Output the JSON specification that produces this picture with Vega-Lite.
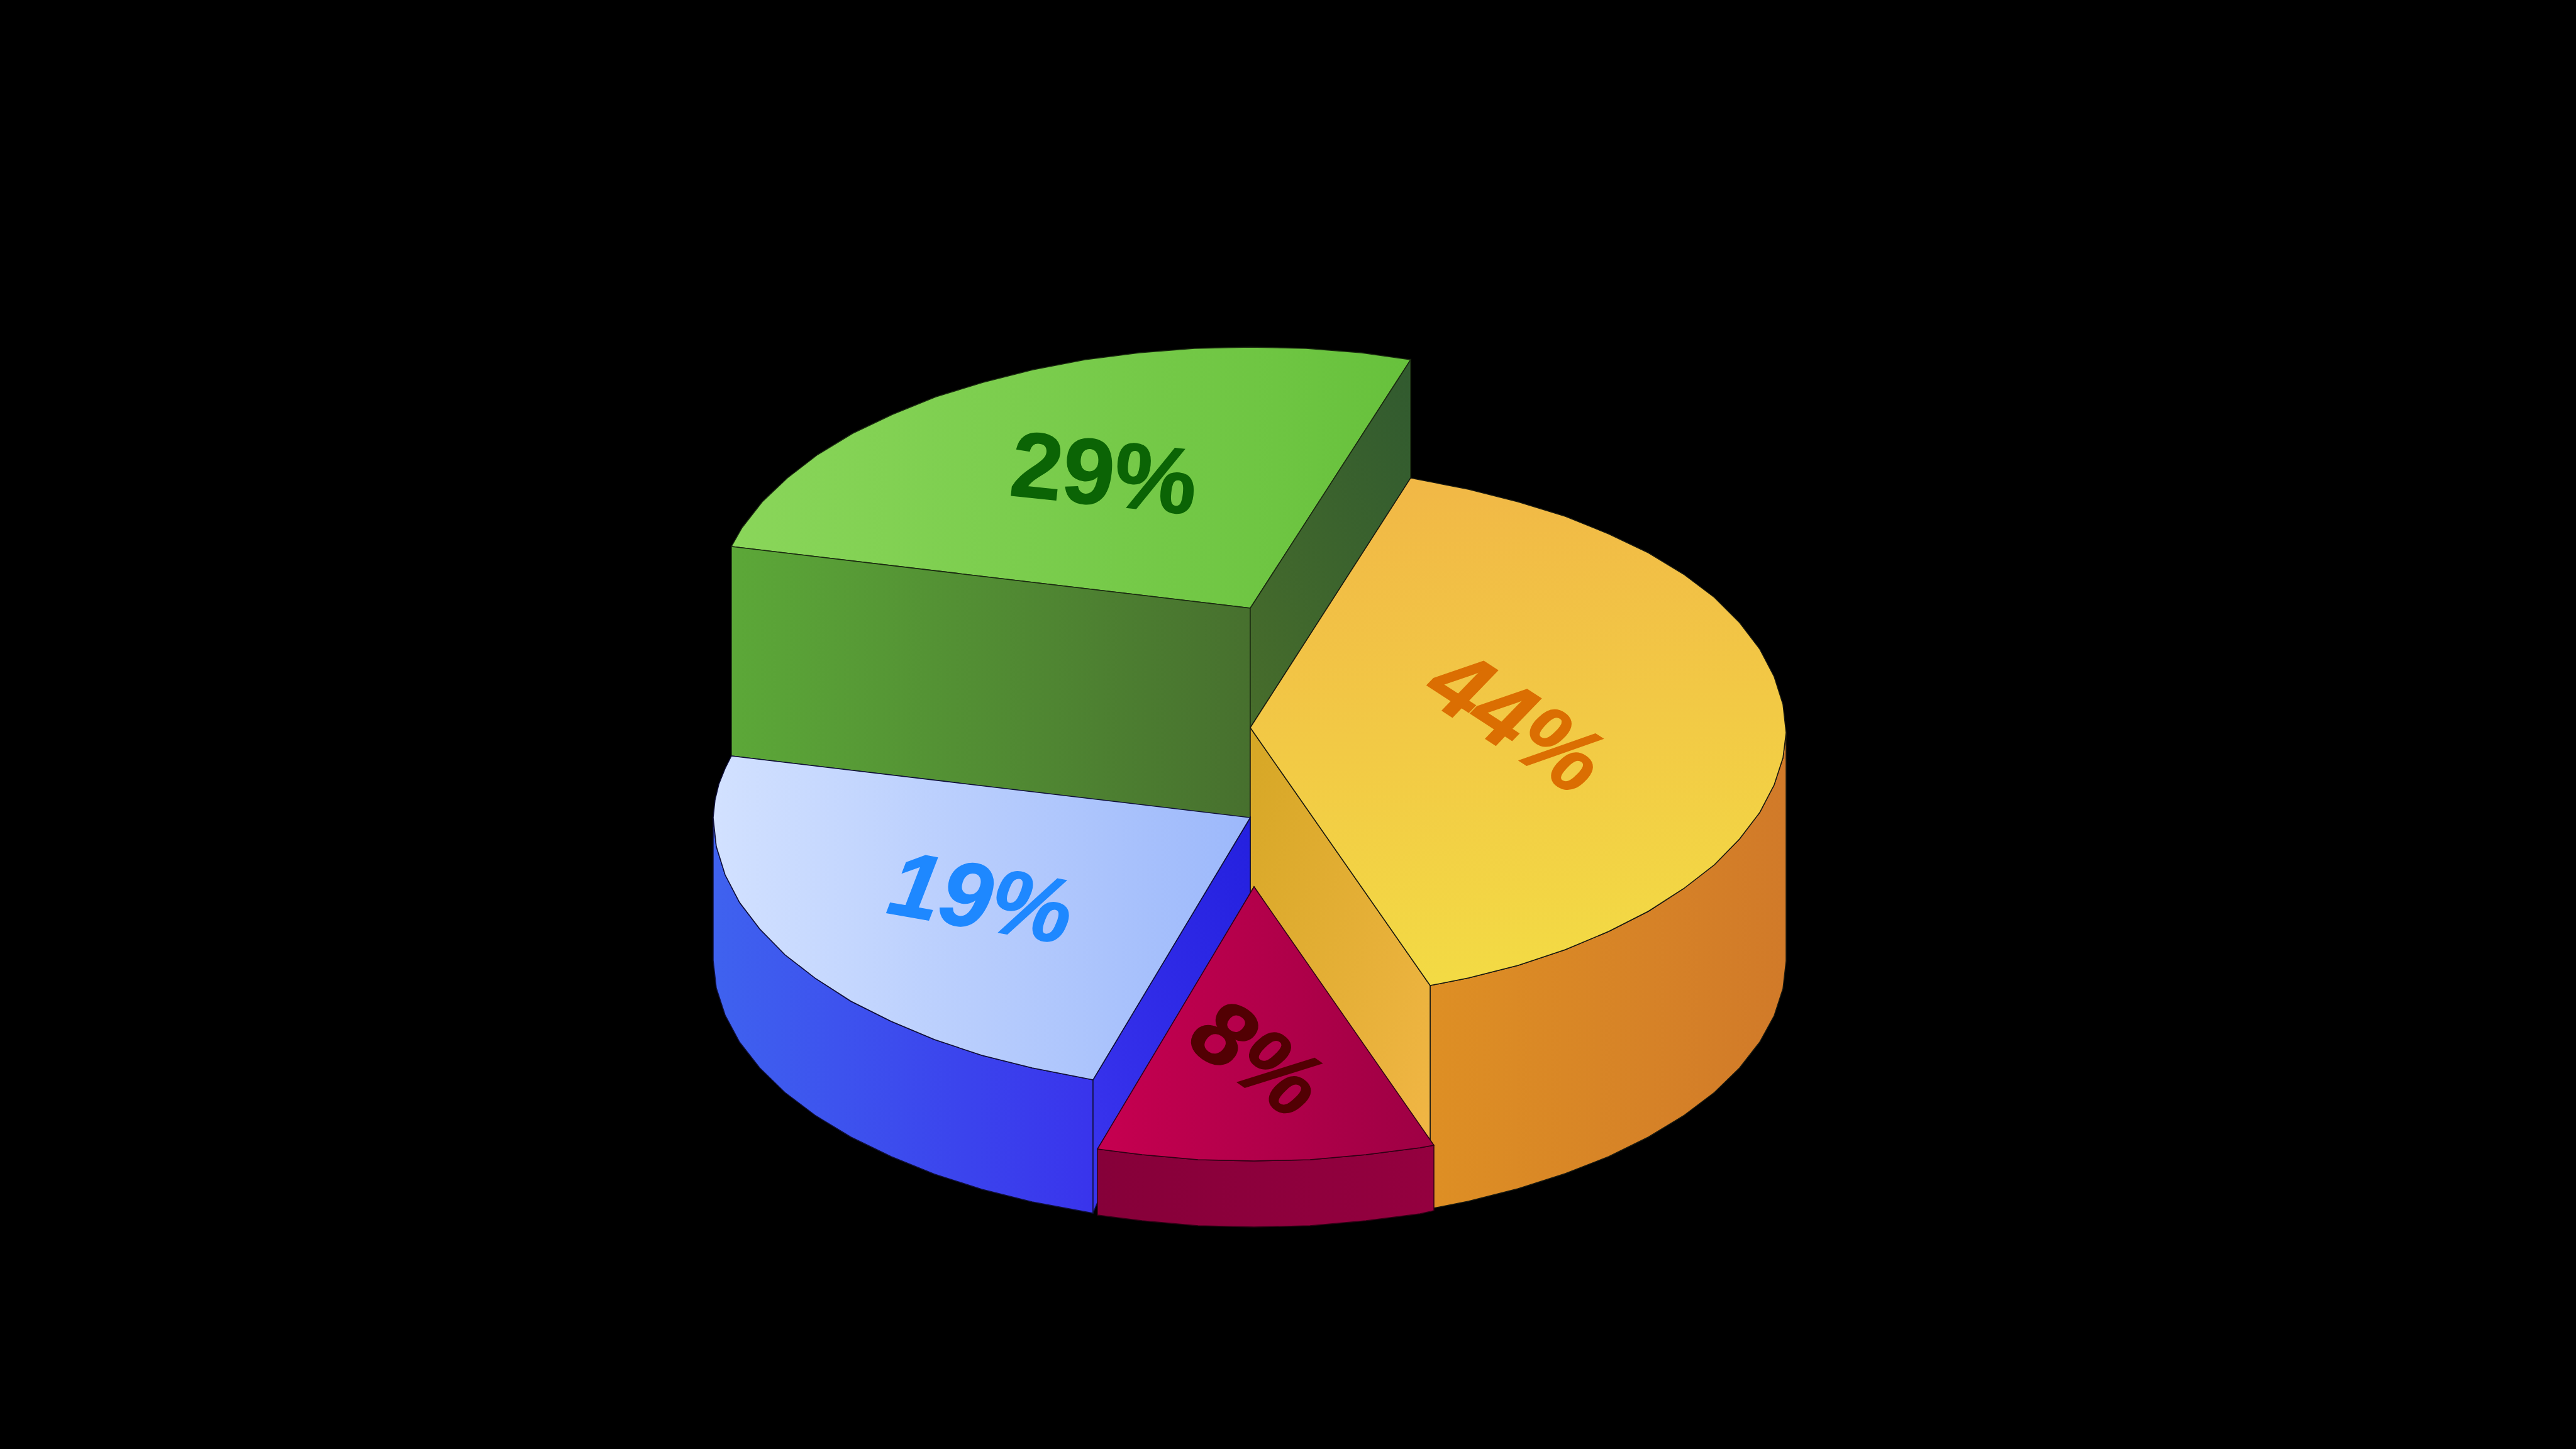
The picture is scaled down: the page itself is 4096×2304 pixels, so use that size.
{
"$schema":"https://vega.github.io/schema/vega-lite/v6.json",
"width":4096,"height":2304,"autosize":{"type":"fit","contains":"padding"},"padding":0,"background":"#000000",
"config":{"view":{"stroke":null}},
"datasets":{
"greenTop":[{"i":0,"x":1163,"y":869},{"i":1,"x":1180,"y":839},{"i":2,"x":1212,"y":798},{"i":3,"x":1252,"y":760},{"i":4,"x":1300,"y":723},{"i":5,"x":1356,"y":689},{"i":6,"x":1419,"y":659},{"i":7,"x":1488,"y":631},{"i":8,"x":1563,"y":608},{"i":9,"x":1642,"y":588},{"i":10,"x":1725,"y":572},{"i":11,"x":1811,"y":561},{"i":12,"x":1899,"y":554},{"i":13,"x":1988,"y":552},{"i":14,"x":2077,"y":554},{"i":15,"x":2165,"y":561},{"i":16,"x":2243,"y":572},{"i":17,"x":1988,"y":967}],
"greenFront":[{"i":0,"x":1163,"y":869},{"i":1,"x":1988,"y":967},{"i":2,"x":1988,"y":1301},{"i":3,"x":1163,"y":1202}],
"greenSide":[{"i":0,"x":1988,"y":967},{"i":1,"x":2243,"y":572},{"i":2,"x":2243,"y":760},{"i":3,"x":1988,"y":1157}],
"yellowSide":[{"i":0,"x":2274,"y":1567},{"i":1,"x":2335,"y":1555},{"i":2,"x":2414,"y":1535},{"i":3,"x":2489,"y":1510},{"i":4,"x":2558,"y":1481},{"i":5,"x":2621,"y":1449},{"i":6,"x":2677,"y":1413},{"i":7,"x":2726,"y":1375},{"i":8,"x":2766,"y":1334},{"i":9,"x":2798,"y":1292},{"i":10,"x":2821,"y":1248},{"i":11,"x":2835,"y":1205},{"i":12,"x":2840,"y":1165},{"i":13,"x":2840,"y":1528},{"i":14,"x":2835,"y":1572},{"i":15,"x":2821,"y":1615},{"i":16,"x":2798,"y":1657},{"i":17,"x":2766,"y":1698},{"i":18,"x":2726,"y":1737},{"i":19,"x":2677,"y":1774},{"i":20,"x":2621,"y":1808},{"i":21,"x":2558,"y":1839},{"i":22,"x":2489,"y":1866},{"i":23,"x":2414,"y":1890},{"i":24,"x":2335,"y":1910},{"i":25,"x":2274,"y":1922}],
"yellowInner":[{"i":0,"x":1988,"y":1157},{"i":1,"x":2274,"y":1567},{"i":2,"x":2274,"y":1823},{"i":3,"x":1994,"y":1410},{"i":4,"x":1988,"y":1420}],
"yellowTop":[{"i":0,"x":1988,"y":1157},{"i":1,"x":2243,"y":760},{"i":2,"x":2335,"y":778},{"i":3,"x":2414,"y":798},{"i":4,"x":2489,"y":821},{"i":5,"x":2558,"y":849},{"i":6,"x":2621,"y":879},{"i":7,"x":2677,"y":913},{"i":8,"x":2726,"y":950},{"i":9,"x":2766,"y":990},{"i":10,"x":2798,"y":1032},{"i":11,"x":2821,"y":1076},{"i":12,"x":2835,"y":1120},{"i":13,"x":2840,"y":1165},{"i":14,"x":2835,"y":1205},{"i":15,"x":2821,"y":1248},{"i":16,"x":2798,"y":1292},{"i":17,"x":2766,"y":1334},{"i":18,"x":2726,"y":1375},{"i":19,"x":2677,"y":1413},{"i":20,"x":2621,"y":1449},{"i":21,"x":2558,"y":1481},{"i":22,"x":2489,"y":1510},{"i":23,"x":2414,"y":1535},{"i":24,"x":2335,"y":1555},{"i":25,"x":2274,"y":1567}],
"blueSide":[{"i":0,"x":1134,"y":1300},{"i":1,"x":1139,"y":1346},{"i":2,"x":1153,"y":1391},{"i":3,"x":1176,"y":1435},{"i":4,"x":1208,"y":1477},{"i":5,"x":1248,"y":1518},{"i":6,"x":1297,"y":1556},{"i":7,"x":1353,"y":1592},{"i":8,"x":1417,"y":1624},{"i":9,"x":1486,"y":1653},{"i":10,"x":1561,"y":1678},{"i":11,"x":1641,"y":1698},{"i":12,"x":1738,"y":1717},{"i":13,"x":1738,"y":1929},{"i":14,"x":1641,"y":1911},{"i":15,"x":1561,"y":1891},{"i":16,"x":1486,"y":1867},{"i":17,"x":1417,"y":1839},{"i":18,"x":1353,"y":1808},{"i":19,"x":1297,"y":1774},{"i":20,"x":1248,"y":1737},{"i":21,"x":1208,"y":1698},{"i":22,"x":1176,"y":1657},{"i":23,"x":1153,"y":1614},{"i":24,"x":1139,"y":1571},{"i":25,"x":1134,"y":1527}],
"blueInner":[{"i":0,"x":1988,"y":1300},{"i":1,"x":1738,"y":1717},{"i":2,"x":1738,"y":1929},{"i":3,"x":1745,"y":1912},{"i":4,"x":1988,"y":1420}],
"blueTop":[{"i":0,"x":1163,"y":1202},{"i":1,"x":1988,"y":1300},{"i":2,"x":1738,"y":1717},{"i":3,"x":1641,"y":1698},{"i":4,"x":1561,"y":1678},{"i":5,"x":1486,"y":1653},{"i":6,"x":1417,"y":1624},{"i":7,"x":1353,"y":1592},{"i":8,"x":1297,"y":1556},{"i":9,"x":1248,"y":1518},{"i":10,"x":1208,"y":1477},{"i":11,"x":1176,"y":1435},{"i":12,"x":1153,"y":1391},{"i":13,"x":1139,"y":1346},{"i":14,"x":1134,"y":1300},{"i":15,"x":1137,"y":1272},{"i":16,"x":1143,"y":1247},{"i":17,"x":1153,"y":1222}],
"crimsonFront":[{"i":0,"x":1745,"y":1827},{"i":1,"x":1816,"y":1836},{"i":2,"x":1905,"y":1844},{"i":3,"x":1994,"y":1846},{"i":4,"x":2083,"y":1844},{"i":5,"x":2172,"y":1836},{"i":6,"x":2258,"y":1825},{"i":7,"x":2280,"y":1821},{"i":8,"x":2280,"y":1925},{"i":9,"x":2258,"y":1930},{"i":10,"x":2172,"y":1941},{"i":11,"x":2083,"y":1949},{"i":12,"x":1994,"y":1951},{"i":13,"x":1905,"y":1949},{"i":14,"x":1816,"y":1941},{"i":15,"x":1745,"y":1932}],
"crimsonTop":[{"i":0,"x":1994,"y":1410},{"i":1,"x":2280,"y":1821},{"i":2,"x":2258,"y":1825},{"i":3,"x":2172,"y":1836},{"i":4,"x":2083,"y":1844},{"i":5,"x":1994,"y":1846},{"i":6,"x":1905,"y":1844},{"i":7,"x":1816,"y":1836},{"i":8,"x":1745,"y":1827}],
"labels":[{"label":"29%","share":29,"x":1755,"y":759},{"label":"44%","share":44,"x":2408,"y":1152},{"label":"19%","share":19,"x":1559,"y":1433},{"label":"8%","share":8,"x":1996,"y":1687}]
},
"encoding":{
"x":{"field":"x","type":"quantitative","axis":null,"scale":{"domain":[0,4096],"nice":false,"zero":false}},
"y":{"field":"y","type":"quantitative","axis":null,"scale":{"domain":[2304,0],"nice":false,"zero":false}}
},
"layer":[
{"data":{"name":"greenTop"},"mark":{"type":"line","interpolate":"linear-closed","stroke":"#1a2a10","strokeWidth":1.5,"fill":{"gradient":"linear","x1":0,"y1":0,"x2":1,"y2":0,"stops":[{"offset":0,"color":"#8AD65A"},{"offset":1,"color":"#67C13C"}]}},"encoding":{"order":{"field":"i","type":"quantitative"}}},
{"data":{"name":"greenFront"},"mark":{"type":"line","interpolate":"linear-closed","stroke":"#1a2a10","strokeWidth":1.5,"fill":{"gradient":"linear","x1":0,"y1":0,"x2":1,"y2":0,"stops":[{"offset":0,"color":"#5CA838"},{"offset":1,"color":"#47702E"}]}},"encoding":{"order":{"field":"i","type":"quantitative"}}},
{"data":{"name":"greenSide"},"mark":{"type":"line","interpolate":"linear-closed","stroke":"#1a2a10","strokeWidth":1.5,"fill":{"gradient":"linear","x1":0,"y1":1,"x2":1,"y2":0,"stops":[{"offset":0,"color":"#476D2B"},{"offset":1,"color":"#315A2F"}]}},"encoding":{"order":{"field":"i","type":"quantitative"}}},
{"data":{"name":"yellowSide"},"mark":{"type":"line","interpolate":"linear-closed","stroke":"#1a1a10","strokeWidth":1.5,"fill":{"gradient":"linear","x1":0,"y1":0,"x2":1,"y2":0,"stops":[{"offset":0,"color":"#DE8F24"},{"offset":1,"color":"#D17A29"}]}},"encoding":{"order":{"field":"i","type":"quantitative"}}},
{"data":{"name":"yellowInner"},"mark":{"type":"line","interpolate":"linear-closed","stroke":"#1a1a10","strokeWidth":1.5,"fill":{"gradient":"linear","x1":0,"y1":0,"x2":1,"y2":1,"stops":[{"offset":0,"color":"#D6A725"},{"offset":1,"color":"#F1B645"}]}},"encoding":{"order":{"field":"i","type":"quantitative"}}},
{"data":{"name":"yellowTop"},"mark":{"type":"line","interpolate":"linear-closed","stroke":"#1a1a10","strokeWidth":1.5,"fill":{"gradient":"linear","x1":0.4,"y1":0,"x2":0.5,"y2":1,"stops":[{"offset":0,"color":"#F1B846"},{"offset":1,"color":"#F3DB44"}]}},"encoding":{"order":{"field":"i","type":"quantitative"}}},
{"data":{"name":"blueSide"},"mark":{"type":"line","interpolate":"linear-closed","stroke":"#10103a","strokeWidth":1.5,"fill":{"gradient":"linear","x1":0,"y1":0,"x2":1,"y2":0,"stops":[{"offset":0,"color":"#3F62EF"},{"offset":1,"color":"#3934EC"}]}},"encoding":{"order":{"field":"i","type":"quantitative"}}},
{"data":{"name":"blueInner"},"mark":{"type":"line","interpolate":"linear-closed","stroke":"#10103a","strokeWidth":1.5,"fill":{"gradient":"linear","x1":1,"y1":0,"x2":0,"y2":1,"stops":[{"offset":0,"color":"#2420DF"},{"offset":1,"color":"#3A35EE"}]}},"encoding":{"order":{"field":"i","type":"quantitative"}}},
{"data":{"name":"blueTop"},"mark":{"type":"line","interpolate":"linear-closed","stroke":"#10103a","strokeWidth":1.5,"fill":{"gradient":"linear","x1":0,"y1":0,"x2":1,"y2":0,"stops":[{"offset":0,"color":"#D2E1FF"},{"offset":1,"color":"#9CB8FB"}]}},"encoding":{"order":{"field":"i","type":"quantitative"}}},
{"data":{"name":"crimsonFront"},"mark":{"type":"line","interpolate":"linear-closed","stroke":"#300015","strokeWidth":1.5,"fill":{"gradient":"linear","x1":0,"y1":0,"x2":1,"y2":0,"stops":[{"offset":0,"color":"#860039"},{"offset":1,"color":"#94003F"}]}},"encoding":{"order":{"field":"i","type":"quantitative"}}},
{"data":{"name":"crimsonTop"},"mark":{"type":"line","interpolate":"linear-closed","stroke":"#300015","strokeWidth":1.5,"fill":{"gradient":"linear","x1":0,"y1":0,"x2":1,"y2":0,"stops":[{"offset":0,"color":"#C60050"},{"offset":1,"color":"#9E0044"}]}},"encoding":{"order":{"field":"i","type":"quantitative"}}},
{"data":{"name":"labels"},"transform":[{"filter":"datum.share==29"}],"mark":{"type":"text","font":"Liberation Sans","fontWeight":"bold","fontSize":148,"angle":6,"align":"center","baseline":"middle","color":"#0B6405","stroke":"#0B6405","strokeWidth":1.5},"encoding":{"text":{"field":"label"}}},
{"data":{"name":"labels"},"transform":[{"filter":"datum.share==44"}],"mark":{"type":"text","font":"Liberation Sans","fontWeight":"bold","fontStyle":"italic","fontSize":148,"angle":33,"align":"center","baseline":"middle","color":"#DB6E02","stroke":"#DB6E02","strokeWidth":1.5},"encoding":{"text":{"field":"label"}}},
{"data":{"name":"labels"},"transform":[{"filter":"datum.share==19"}],"mark":{"type":"text","font":"Liberation Sans","fontWeight":"bold","fontStyle":"italic","fontSize":146,"angle":10,"align":"center","baseline":"middle","color":"#1E88FF","stroke":"#1E88FF","strokeWidth":1.5},"encoding":{"text":{"field":"label"}}},
{"data":{"name":"labels"},"transform":[{"filter":"datum.share==8"}],"mark":{"type":"text","font":"Liberation Sans","fontWeight":"bold","fontStyle":"italic","fontSize":148,"angle":35,"align":"center","baseline":"middle","color":"#520003","stroke":"#520003","strokeWidth":1.5},"encoding":{"text":{"field":"label"}}}
]
}
